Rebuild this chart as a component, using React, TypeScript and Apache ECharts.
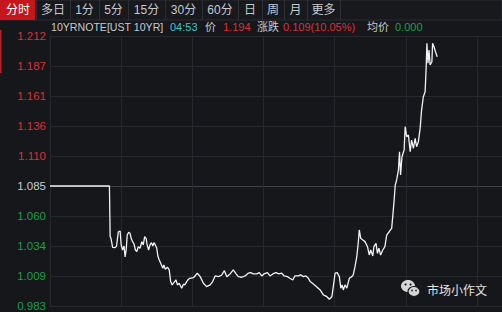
import React, { useEffect, useRef } from "react";
import * as echarts from "echarts";

// time in minutes since session open, price values
const times = [
  0, 167, 169, 171, 176, 183, 187, 192, 197, 200, 204, 208, 211, 214, 217, 221, 225, 228, 232, 236,
  240, 244, 248, 253, 258, 262, 266, 270, 273, 277, 281, 285, 289, 292, 296, 300, 303, 307, 311, 317,
  320, 324, 330, 335, 339, 343, 348, 354, 358, 363, 370, 375, 379, 384, 389, 393, 403, 414, 422, 431,
  440, 450, 457, 464, 473, 482, 490, 497, 506, 515, 523, 529, 539, 548, 557, 564, 571, 581, 588, 595,
  601, 611, 618, 626, 635, 643, 651, 658, 667, 674, 682, 688, 698, 704, 712, 719, 726, 731, 740, 749,
  759, 768, 778, 785, 792, 796, 801, 807, 813, 817, 821, 824, 829, 834, 841, 848, 852, 857, 862, 866,
  869, 873, 879, 885, 892, 897, 901, 907, 910, 916, 920, 924, 929, 935, 941, 946, 953, 960, 963, 967,
  970, 974, 979, 982, 985, 989, 995, 998, 1002, 1007, 1012, 1016, 1021, 1026, 1030, 1035, 1040, 1044, 1049, 1054,
  1057, 1059, 1062, 1065, 1068, 1073, 1075, 1079, 1083, 1088,
];
const prices = [
  1.085, 1.085, 1.042, 1.0409, 1.033, 1.0327, 1.0341, 1.0462, 1.0468, 1.035, 1.0307, 1.0341, 1.0248, 1.0307, 1.0434, 1.0457, 1.0449, 1.0406, 1.0378, 1.0358,
  1.0307, 1.0293, 1.0335, 1.0322, 1.0378, 1.035, 1.042, 1.0406, 1.035, 1.0307, 1.035, 1.0369, 1.0341, 1.0369, 1.035, 1.0322, 1.0256, 1.0222, 1.0194, 1.0152,
  1.018, 1.0144, 1.0161, 1.0138, 1.0039, 1.0011, 1.003, 1.0053, 1.0011, 1.0025, 0.9983, 1.0017, 1.0011, 1.0039, 1.0059, 1.0067, 1.0072, 1.011, 1.0081, 1.0025,
  0.9996, 1.0011, 1.0039, 1.0087, 1.0081, 1.0093, 1.0132, 1.0081, 1.0104, 1.0138, 1.0104, 1.0081, 1.0076, 1.0087, 1.011, 1.0115, 1.0104, 1.0104, 1.0115, 1.0087,
  1.0104, 1.0115, 1.0087, 1.0104, 1.0115, 1.0104, 1.011, 1.0087, 1.0081, 1.0067, 1.0053, 1.0087, 1.0087, 1.0096, 1.0081, 1.0087, 1.0067, 1.0039, 1.0019, 0.9996,
  0.9968, 0.9926, 0.9911, 0.9889, 0.9911, 0.9996, 1.011, 1.0115, 1.0081, 0.9983, 1.0011, 0.9968, 1.0011, 0.9983, 1.0067, 1.0081, 1.0096, 1.0166, 1.025, 1.0364,
  1.0477, 1.0406, 1.0392, 1.0378, 1.0335, 1.0265, 1.0307, 1.0256, 1.0335, 1.0364, 1.0279, 1.0322, 1.0265, 1.0307, 1.0335, 1.0434, 1.0462, 1.0491, 1.059, 1.0731,
  1.0858, 1.0901, 1.0986, 1.1141, 1.0943, 1.1098, 1.1155, 1.1353, 1.1268, 1.1283, 1.1141, 1.124, 1.117, 1.1255, 1.1183, 1.1226, 1.1339, 1.1494, 1.1607, 1.165,
  1.1862, 1.206, 1.1891, 1.2003, 1.1876, 1.1904, 1.206, 1.2031, 1.1989, 1.1947,
];

const baseValue = 1.085;
const yMin = 0.9832;
const yStep = 0.02545;
const yCount = 9;
const sessionMinutes = 1270;
const xStep = 200;

const tabs = ["分时", "多日", "1分", "5分", "15分", "30分", "60分", "日", "周", "月", "更多"];
const tabEdges = [0, 36, 70, 99, 128, 165, 202, 238, 262, 284, 307, 340];

const symbolName = "10YRNOTE[UST 10YR]";
const quoteTime = "04:53";
const lastPrice = "1.194";
const change = "0.109(10.05%)";
const avgPrice = "0.000";

const RED = "#dc2f36";
const GREEN = "#1f9f4a";
const GREY = "#c6cacf";
const BG = "#15171b";
const GRID = "#25282d";
const FONT = '"Liberation Sans", "Noto Sans CJK SC", sans-serif';

export default function App() {
  const ref = useRef<HTMLDivElement>(null);
  useEffect(() => {
    if (!ref.current) return;
    const chart = echarts.init(ref.current, null, { renderer: "svg" });
    const splitColors: string[] = [];
    for (let i = 0; i <= yCount; i++) splitColors.push(i === 4 ? "#3d4146" : GRID);

    const graphics: any[] = [];
    // tab bar
    graphics.push({ type: "rect", shape: { x: 0, y: 0, width: 502, height: 20 }, style: { fill: "#17191d", stroke: "#2a2d32", lineWidth: 1 }, z: 0 });
    graphics.push({ type: "rect", shape: { x: 0, y: 0, width: 35, height: 20 }, style: { fill: "#c4161c" }, z: 1 });
    for (let i = 0; i < tabs.length; i++) {
      const x0 = tabEdges[i];
      const x1 = tabEdges[i + 1];
      if (i > 0) graphics.push({ type: "line", shape: { x1: x0 + 0.5, y1: 0, x2: x0 + 0.5, y2: 20 }, style: { stroke: "#2c2f35", lineWidth: 1 }, z: 2 });
      graphics.push({
        type: "text", x: (x0 + x1) / 2, y: 10, z: 3,
        style: { text: tabs[i], fill: i === 0 ? "#ffffff" : GREY, font: `12px ${FONT}`, align: "center", verticalAlign: "middle" },
      });
    }
    graphics.push({ type: "line", shape: { x1: 340.5, y1: 0, x2: 340.5, y2: 20 }, style: { stroke: "#2c2f35", lineWidth: 1 }, z: 2 });
    graphics.push({ type: "rect", shape: { x: 0, y: 30, width: 1.5, height: 43 }, style: { fill: "#b3242b" }, z: 2 });
    // info row
    const info: [string, number, string, number][] = [
      [symbolName, 51, GREY, 10.6],
      [quoteTime, 170, "#3cc6c6", 11],
      ["价", 205, GREY, 11],
      [lastPrice, 223, RED, 11],
      ["涨跌", 257, GREY, 11],
      [change, 283, RED, 11],
      ["均价", 367, GREY, 11],
      [avgPrice, 395, GREEN, 11],
    ];
    info.forEach(([t, x, c, s]) => {
      graphics.push({ type: "text", x, y: 27, z: 3, style: { text: t, fill: c, font: `${s}px ${FONT}`, verticalAlign: "middle" } });
    });
    // watermark
    graphics.push({ type: "ellipse", shape: { cx: 408, cy: 286, rx: 7, ry: 6 }, style: { fill: "#d6d6d6" }, z: 5 });
    graphics.push({ type: "ellipse", shape: { cx: 414, cy: 291.5, rx: 6, ry: 5 }, style: { fill: "#d6d6d6", stroke: BG, lineWidth: 1.2 }, z: 6 });
    graphics.push({ type: "circle", shape: { cx: 405.5, cy: 284.5, r: 1 }, style: { fill: BG }, z: 7 });
    graphics.push({ type: "circle", shape: { cx: 410.5, cy: 284.5, r: 1 }, style: { fill: BG }, z: 7 });
    graphics.push({ type: "circle", shape: { cx: 412, cy: 290.5, r: 0.8 }, style: { fill: BG }, z: 7 });
    graphics.push({ type: "circle", shape: { cx: 416, cy: 290.5, r: 0.8 }, style: { fill: BG }, z: 7 });
    graphics.push({ type: "text", x: 427, y: 289, z: 5, style: { text: "市场小作文", fill: "#e4e4e4", font: `12px "Noto Sans CJK SC", sans-serif`, verticalAlign: "middle" } });

    chart.setOption({
      animation: false,
      backgroundColor: BG,
      grid: { left: 50, top: 36, right: 0, bottom: 6, containLabel: false },
      xAxis: {
        type: "value",
        min: 0,
        max: sessionMinutes,
        interval: xStep,
        axisLine: { show: false },
        axisTick: { show: false },
        axisLabel: { show: false },
        splitLine: { show: true, lineStyle: { color: GRID, width: 1 } },
      },
      yAxis: {
        type: "value",
        min: yMin,
        max: +(yMin + yCount * yStep).toFixed(5),
        interval: yStep,
        axisLine: { show: false },
        axisTick: { show: false },
        axisLabel: {
          margin: 4,
          fontSize: 11.5,
          fontFamily: FONT,
          formatter: (v: number) => v.toFixed(3),
          color: (v: any) => {
            const n = Number(v);
            if (Math.abs(n - baseValue) < 0.0005) return "#c3ccd6";
            return n > baseValue ? RED : GREEN;
          },
        },
        splitLine: { show: true, lineStyle: { color: splitColors, width: 1 } },
      },
      series: [
        {
          type: "line",
          data: times.map((t, i) => [t, prices[i]]),
          showSymbol: false,
          symbol: "none",
          lineStyle: { color: "#f2f2f2", width: 1.3 },
          z: 3,
        },
      ],
      graphic: graphics,
    });
    return () => chart.dispose();
  }, []);
  return <div ref={ref} style={{ position: "fixed", left: 0, top: 0, width: 502, height: 312 }} />;
}
